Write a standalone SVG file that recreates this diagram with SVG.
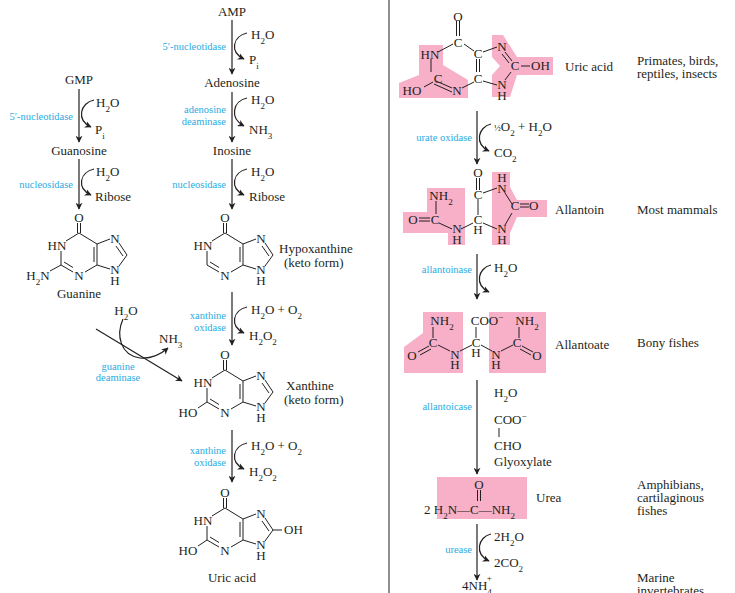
<svg xmlns="http://www.w3.org/2000/svg" width="735" height="593" viewBox="0 0 735 593">
<style>
text{font-family:"Liberation Serif","DejaVu Serif",serif;font-size:13px;fill:#231f20}
.c{text-anchor:middle}
.e{font-size:10.5px;fill:#29abe2;text-anchor:end}
.ec{font-size:10.5px;fill:#29abe2;text-anchor:middle}
.s{font-size:9px}
line,path.b{stroke:#231f20;stroke-width:1;fill:none}
.ar{stroke:#231f20;stroke-width:1.2;fill:none;marker-end:url(#ah)}
.pk{fill:#f7b0c8;stroke:none}
</style>
<defs>
<marker id="ah" viewBox="0 0 10 10" refX="9" refY="5" markerWidth="7" markerHeight="7" orient="auto" markerUnits="userSpaceOnUse"><path d="M0,0 L10,5 L0,10 L3,5 Z" fill="#231f20"/></marker>
<g id="pur">
<line x1="77.5" y1="223" x2="77.5" y2="233"/><line x1="80.5" y1="223" x2="80.5" y2="233"/>
<line x1="79" y1="233" x2="66" y2="241"/>
<line x1="61" y1="251" x2="61" y2="265"/>
<line x1="61" y1="265" x2="73" y2="272"/><line x1="64" y1="262" x2="73" y2="267.5"/>
<line x1="85" y1="272" x2="97" y2="265"/>
<line x1="97" y1="265" x2="97" y2="244"/><line x1="94" y1="262" x2="94" y2="247"/>
<line x1="97" y1="244" x2="79" y2="233"/>
<line x1="97" y1="244" x2="110" y2="239"/>
<line x1="119" y1="243" x2="127" y2="255"/><line x1="116" y1="246" x2="123" y2="256"/>
<line x1="127" y1="255" x2="119" y2="266"/>
<line x1="110" y1="269" x2="97" y2="265"/>
</g>
</defs>
<rect width="735" height="593" fill="#fff"/>
<line x1="389" y1="0" x2="389" y2="593" style="stroke:#231f20"/>

<g id="connectors">
<line class="ar" x1="232" y1="20" x2="232" y2="74"/>
<line class="ar" x1="232" y1="92" x2="232" y2="142"/>
<line class="ar" x1="232" y1="159" x2="232" y2="209"/>
<line class="ar" x1="79" y1="89" x2="79" y2="142"/>
<line class="ar" x1="79" y1="159" x2="79" y2="209"/>
<line class="ar" x1="232" y1="292" x2="232" y2="345"/>
<line class="ar" x1="232" y1="430" x2="232" y2="482"/>
<line class="ar" x1="96" y1="329" x2="182" y2="381"/>
<path class="ar" d="M247,33 C233,36 229,52 244,59"/>
<path class="ar" d="M94,100 C80,103 76,120 91,127"/>
<path class="ar" d="M247,98 C233,101 229,118 244,126"/>
<path class="ar" d="M94,169 C80,172 76,188 91,195"/>
<path class="ar" d="M247,169 C233,172 229,188 244,195"/>
<path class="ar" d="M247,307 C233,310 229,326 244,333"/>
<path class="ar" d="M247,443 C233,446 229,462 244,469"/>
<path class="ar" d="M123,319 C116,335 120,355 140,358 C152,359 161,354 168,348"/>
<line class="ar" x1="477" y1="111" x2="477" y2="164"/>
<line class="ar" x1="477" y1="254" x2="477" y2="299"/>
<line class="ar" x1="477" y1="380" x2="477" y2="474"/>
<line class="ar" x1="477" y1="524" x2="477" y2="580"/>
<path class="ar" d="M491,124 C478,127 474,144 489,151"/>
<path class="ar" d="M491,265 C478,268 474,285 489,292"/>
<path class="ar" d="M491,534 C478,537 474,554 489,561"/>
</g>

<g id="labels-left">
<text class="c" x="232" y="16">AMP</text>
<text class="e" x="226" y="50">5′-nucleotidase</text>
<text x="251" y="39">H<tspan class="s" baseline-shift="sub">2</tspan>O</text>
<text x="249" y="64">P<tspan class="s" baseline-shift="sub">i</tspan></text>
<text class="c" x="232" y="87">Adenosine</text>
<text class="e" x="226" y="113">adenosine</text>
<text class="e" x="226" y="125">deaminase</text>
<text x="251" y="104">H<tspan class="s" baseline-shift="sub">2</tspan>O</text>
<text x="249" y="134">NH<tspan class="s" baseline-shift="sub">3</tspan></text>
<text class="c" x="232" y="155">Inosine</text>
<text class="e" x="226" y="188">nucleosidase</text>
<text x="251" y="176">H<tspan class="s" baseline-shift="sub">2</tspan>O</text>
<text x="249" y="201">Ribose</text>
<text class="c" x="79" y="84">GMP</text>
<text class="e" x="73" y="120">5′-nucleotidase</text>
<text x="96" y="107">H<tspan class="s" baseline-shift="sub">2</tspan>O</text>
<text x="95" y="134">P<tspan class="s" baseline-shift="sub">i</tspan></text>
<text class="c" x="79" y="155">Guanosine</text>
<text class="e" x="73" y="188">nucleosidase</text>
<text x="96" y="176">H<tspan class="s" baseline-shift="sub">2</tspan>O</text>
<text x="95" y="201">Ribose</text>
<text class="e" x="226" y="319">xanthine</text>
<text class="e" x="226" y="331">oxidase</text>
<text x="251" y="314">H<tspan class="s" baseline-shift="sub">2</tspan>O + O<tspan class="s" baseline-shift="sub">2</tspan></text>
<text x="249" y="340">H<tspan class="s" baseline-shift="sub">2</tspan>O<tspan class="s" baseline-shift="sub">2</tspan></text>
<text class="e" x="226" y="454">xanthine</text>
<text class="e" x="226" y="466">oxidase</text>
<text x="251" y="450">H<tspan class="s" baseline-shift="sub">2</tspan>O + O<tspan class="s" baseline-shift="sub">2</tspan></text>
<text x="249" y="476">H<tspan class="s" baseline-shift="sub">2</tspan>O<tspan class="s" baseline-shift="sub">2</tspan></text>
<text class="c" x="126" y="315">H<tspan class="s" baseline-shift="sub">2</tspan>O</text>
<text x="159" y="343">NH<tspan class="s" baseline-shift="sub">3</tspan></text>
<text class="ec" x="118" y="370">guanine</text>
<text class="ec" x="118" y="381">deaminase</text>
</g>

<g id="guanine">
<use href="#pur"/>
<line x1="61" y1="265" x2="50" y2="271"/>
<text class="c" x="79" y="222">O</text>
<text class="c" x="57" y="250">HN</text>
<text class="c" x="79" y="280">N</text>
<text class="c" x="115" y="243">N</text>
<text class="c" x="115" y="274">N</text>
<text class="c" x="115" y="285">H</text>
<text class="c" x="38" y="280">H<tspan class="s" baseline-shift="sub">2</tspan>N</text>
<text class="c" x="79" y="298">Guanine</text>
</g>
<g id="hypoxanthine" transform="translate(146,0)">
<use href="#pur"/>
<text class="c" x="79" y="222">O</text>
<text class="c" x="57" y="250">HN</text>
<text class="c" x="79" y="280">N</text>
<text class="c" x="115" y="243">N</text>
<text class="c" x="115" y="274">N</text>
<text class="c" x="115" y="285">H</text>
<text x="133" y="253">Hypoxanthine</text>
<text x="138" y="267">(keto form)</text>
</g>
<g id="xanthine" transform="translate(146,137)">
<use href="#pur"/>
<line x1="61" y1="265" x2="52" y2="271"/>
<text class="c" x="79" y="222">O</text>
<text class="c" x="57" y="250">HN</text>
<text class="c" x="79" y="280">N</text>
<text class="c" x="115" y="243">N</text>
<text class="c" x="115" y="274">N</text>
<text class="c" x="115" y="285">H</text>
<text class="c" x="42" y="280">HO</text>
<text x="140" y="253">Xanthine</text>
<text x="138" y="267">(keto form)</text>
</g>
<g id="uricacid-left" transform="translate(146,275)">
<use href="#pur"/>
<line x1="61" y1="265" x2="52" y2="271"/>
<line x1="127" y1="255" x2="136" y2="255"/>
<text class="c" x="79" y="222">O</text>
<text class="c" x="57" y="250">HN</text>
<text class="c" x="79" y="280">N</text>
<text class="c" x="115" y="243">N</text>
<text class="c" x="115" y="274">N</text>
<text class="c" x="115" y="285">H</text>
<text class="c" x="42" y="280">HO</text>
<text x="138" y="259">OH</text>
<text class="c" x="86" y="307">Uric acid</text>
</g>

<g id="uricacid-right">
<polygon class="pk" points="419,45 443,45 443,65 468,80 468,98 399,98 399,83 419,75"/>
<polygon class="pk" points="492,35 503,35 517,57 553,57 553,75 517,75 510,97 492,97 492,75 500,66 492,57"/>
<line x1="456.5" y1="21" x2="456.5" y2="36"/><line x1="459.5" y1="21" x2="459.5" y2="36"/>
<line x1="453" y1="44" x2="438" y2="52"/>
<line x1="464" y1="44" x2="474" y2="51"/>
<line x1="431" y1="59" x2="431" y2="72"/>
<line x1="434" y1="84" x2="452" y2="92"/><line x1="436" y1="81" x2="452" y2="88"/>
<line x1="462" y1="88" x2="474" y2="82"/>
<line x1="476.5" y1="59" x2="476.5" y2="72"/><line x1="479.5" y1="59" x2="479.5" y2="72"/>
<line x1="483" y1="52" x2="497" y2="47"/>
<line x1="483" y1="81" x2="497" y2="85"/>
<line x1="505" y1="52" x2="512" y2="61"/><line x1="502" y1="54" x2="509" y2="63"/>
<line x1="511" y1="72" x2="505" y2="80"/>
<line x1="521" y1="66" x2="530" y2="66"/>
<line x1="424" y1="87" x2="433" y2="82"/>
<text class="c" x="458" y="21">O</text>
<text class="c" x="458" y="47">C</text>
<text class="c" x="430" y="59">HN</text>
<text class="c" x="438" y="83">C</text>
<text class="c" x="457" y="95">N</text>
<text class="c" x="478" y="83">C</text>
<text class="c" x="478" y="58">C</text>
<text class="c" x="502" y="51">N</text>
<text class="c" x="515" y="70">C</text>
<text x="531" y="70">OH</text>
<text class="c" x="502" y="89">N</text>
<text class="c" x="502" y="100">H</text>
<text class="c" x="412" y="95">HO</text>
<text x="565" y="71">Uric acid</text>
<text x="637" y="65">Primates, birds,</text>
<text x="637" y="78">reptiles, insects</text>
<text class="e" x="472" y="141">urate oxidase</text>
<text x="494" y="131"><tspan class="s">½</tspan>O<tspan class="s" baseline-shift="sub">2</tspan> + H<tspan class="s" baseline-shift="sub">2</tspan>O</text>
<text x="494" y="157">CO<tspan class="s" baseline-shift="sub">2</tspan></text>
</g>

<g id="allantoin">
<polygon class="pk" points="427,188 465,188 465,245 448,245 448,233 403,233 403,212 427,212"/>
<polygon class="pk" points="492,172 510,172 510,187 517,200 547,200 547,217 517,217 510,233 510,245 492,245"/>
<line x1="476.5" y1="178" x2="476.5" y2="190"/><line x1="479.5" y1="178" x2="479.5" y2="190"/>
<line x1="478" y1="199" x2="478" y2="215"/>
<line x1="483" y1="193" x2="497" y2="188"/>
<line x1="505" y1="193" x2="512" y2="204"/>
<line x1="512" y1="213" x2="505" y2="225"/>
<line x1="497" y1="229" x2="483" y2="223"/>
<line x1="473" y1="223" x2="461" y2="229"/>
<line x1="452" y1="229" x2="439" y2="223"/>
<line x1="436" y1="201" x2="436" y2="214"/>
<line x1="419" y1="218" x2="430" y2="218"/><line x1="419" y1="221" x2="430" y2="221"/>
<line x1="520" y1="204" x2="529" y2="204"/><line x1="520" y1="207" x2="529" y2="207"/>
<text class="c" x="478" y="177">O</text>
<text class="c" x="478" y="199">C</text>
<text class="c" x="502" y="182">H</text>
<text class="c" x="502" y="193">N</text>
<text class="c" x="515" y="210">C</text>
<text x="529" y="210">O</text>
<text class="c" x="502" y="233">N</text>
<text class="c" x="502" y="244">H</text>
<text class="c" x="478" y="224">C</text>
<text class="c" x="478" y="234">H</text>
<text class="c" x="457" y="233">N</text>
<text class="c" x="457" y="244">H</text>
<text class="c" x="435" y="224">C</text>
<text class="c" x="413" y="224">O</text>
<text class="c" x="441" y="200">NH<tspan class="s" baseline-shift="sub">2</tspan></text>
<text x="555" y="214">Allantoin</text>
<text x="637" y="214">Most mammals</text>
<text class="e" x="472" y="273">allantoinase</text>
<text x="494" y="272">H<tspan class="s" baseline-shift="sub">2</tspan>O</text>
</g>

<g id="allantoate">
<polygon class="pk" points="423,312 463,312 463,373 404,373 404,347 423,333"/>
<polygon class="pk" points="489,312 546,312 546,373 489,373"/>
<line x1="433" y1="327" x2="433" y2="338"/>
<line x1="418" y1="352" x2="429" y2="346"/><line x1="420" y1="355" x2="431" y2="349"/>
<line x1="438" y1="345" x2="450" y2="351"/>
<line x1="460" y1="351" x2="472" y2="345"/>
<line x1="476" y1="327" x2="476" y2="338"/>
<line x1="481" y1="345" x2="492" y2="351"/>
<line x1="501" y1="351" x2="513" y2="345"/>
<line x1="522" y1="346" x2="533" y2="352"/><line x1="520" y1="349" x2="531" y2="355"/>
<line x1="519" y1="327" x2="519" y2="338"/>
<text class="c" x="442" y="325">NH<tspan class="s" baseline-shift="sub">2</tspan></text>
<text class="c" x="433" y="347">C</text>
<text class="c" x="412" y="360">O</text>
<text class="c" x="455" y="359">N</text>
<text class="c" x="455" y="369">H</text>
<text class="c" x="476" y="347">C</text>
<text class="c" x="476" y="357">H</text>
<text class="c" x="487" y="325">COO<tspan class="s" baseline-shift="super">−</tspan></text>
<text class="c" x="496" y="359">N</text>
<text class="c" x="496" y="369">H</text>
<text class="c" x="517" y="347">C</text>
<text class="c" x="537" y="360">O</text>
<text class="c" x="527" y="325">NH<tspan class="s" baseline-shift="sub">2</tspan></text>
<text x="555" y="349">Allantoate</text>
<text x="637" y="347">Bony fishes</text>
<text class="e" x="472" y="410">allantoicase</text>
<text x="494" y="397">H<tspan class="s" baseline-shift="sub">2</tspan>O</text>
<text x="494" y="424">COO<tspan class="s" baseline-shift="super">−</tspan></text>
<line x1="499" y1="428" x2="499" y2="437"/>
<text x="494" y="450">CHO</text>
<text x="494" y="466">Glyoxylate</text>
</g>

<g id="urea">
<rect class="pk" x="437" y="477" width="90" height="42"/>
<text class="c" x="479" y="489">O</text>
<line x1="477.5" y1="490" x2="477.5" y2="501"/><line x1="480.5" y1="490" x2="480.5" y2="501"/>
<text x="424" y="514">2 H<tspan class="s" baseline-shift="sub">2</tspan>N—C—NH<tspan class="s" baseline-shift="sub">2</tspan></text>
<text x="536" y="502">Urea</text>
<text x="637" y="489">Amphibians,</text>
<text x="637" y="502">cartilaginous</text>
<text x="637" y="515">fishes</text>
<text class="e" x="472" y="553">urease</text>
<text x="494" y="541">2H<tspan class="s" baseline-shift="sub">2</tspan>O</text>
<text x="494" y="567">2CO<tspan class="s" baseline-shift="sub">2</tspan></text>
<text class="c" x="477" y="590">4NH<tspan class="s" baseline-shift="sub">4</tspan><tspan class="s" dx="-5" dy="-9">+</tspan></text>
<text x="637" y="582">Marine</text>
<text x="637" y="595">invertebrates</text>
</g>
</svg>
